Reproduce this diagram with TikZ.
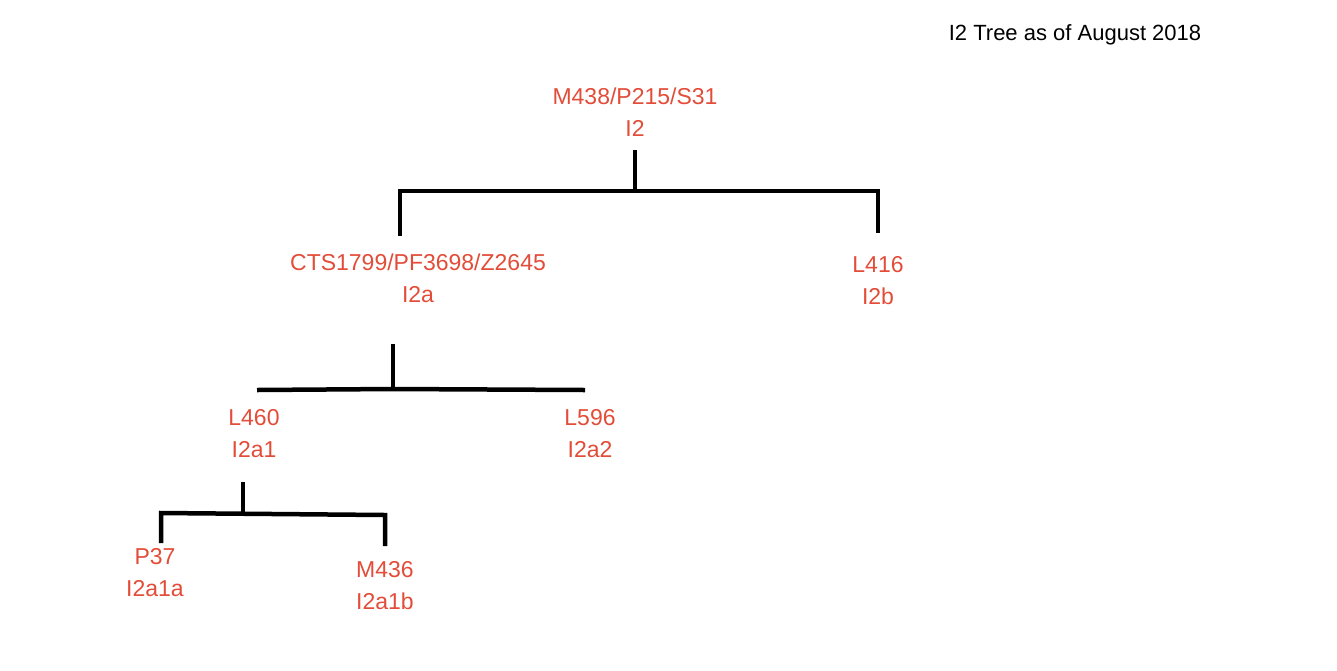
\documentclass[tikz,border=0pt]{standalone}
\usepackage{fontspec}
\setmainfont{Liberation Sans}
\definecolor{lbl}{RGB}{226,76,56}
\begin{document}
\begin{tikzpicture}[x=1pt,y=-1pt,
  lab/.style={text=lbl,font=\fontsize{23}{32}\selectfont,align=center,inner sep=0},
  br/.style={line width=4.5pt,line cap=butt}]
\useasboundingbox (0,0) rectangle (1337,670);
\node[font=\fontsize{22}{26}\selectfont] (title) at (1075,35) {I2 Tree as of August 2018};
\node[lab] (i2) at (635,112) {M438/P215/S31\\I2};
\node[lab] (i2a) at (418,278) {CTS1799/PF3698/Z2645\\I2a};
\node[lab] (i2b) at (878,281) {L416\\I2b};
\node[lab] (i2a1) at (254,434) {L460\\I2a1};
\node[lab] (i2a2) at (590,434) {L596\\I2a2};
\node[lab] (i2a1a) at (155,573) {P37\\I2a1a};
\node[lab] (i2a1b) at (385,586) {M436\\I2a1b};
\coordinate (a1) at (635,150); \coordinate (a2) at (635,191);
\coordinate (aL) at (400,191); \coordinate (aR) at (878,191);
\coordinate (aLd) at (400,236); \coordinate (aRd) at (878,233);
\draw[br] (a1)--(a2); \draw[br] (aLd)--(aL)--(aR)--(aRd);
\coordinate (b1) at (393,344); \coordinate (b2) at (393,389);
\coordinate (bL) at (257,390); \coordinate (bR) at (585,390);
\draw[br] (b1)--(b2); \draw[br] (bL)--(b2)--(bR);
\coordinate (c1) at (243,482); \coordinate (c2) at (243,514);
\coordinate (cL) at (161,513); \coordinate (cR) at (385,515);
\coordinate (cLd) at (161,543); \coordinate (cRd) at (385,546);
\draw[br] (c1)--(c2); \draw[br] (cLd)--(cL)--(cR)--(cRd);
\end{tikzpicture}
\end{document}
